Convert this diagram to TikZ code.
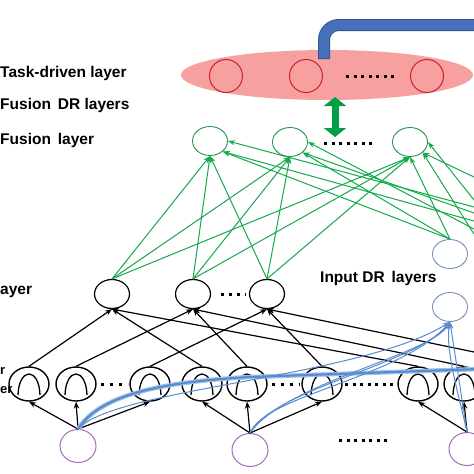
\documentclass[tikz,border=0pt]{standalone}
\usepackage{fontspec}
\setmainfont{Liberation Sans}
\usetikzlibrary{arrows.meta,shapes.geometric,calc}
\definecolor{gline}{RGB}{20,170,75}
\definecolor{gcirc}{RGB}{40,150,80}
\definecolor{rcirc}{RGB}{205,30,45}
\definecolor{rfill}{RGB}{246,150,150}
\definecolor{pipe}{RGB}{70,112,185}
\definecolor{pipeedge}{RGB}{50,85,150}
\definecolor{purp}{RGB}{160,110,190}
\definecolor{bcirc}{RGB}{120,145,185}
\definecolor{bline}{RGB}{90,140,205}
\definecolor{bhalo}{RGB}{160,195,235}
\definecolor{garr}{RGB}{0,160,70}
\begin{document}
\begin{tikzpicture}[x=1pt,y=-1pt,
  lbl/.style={font=\fontsize{15.5}{18}\selectfont\bfseries, anchor=west, inner sep=0pt},
  redc/.style={circle, draw=rcirc, line width=1pt, minimum size=33pt, inner sep=0pt},
  grc/.style={ellipse, draw=gcirc, line width=0.9pt, minimum width=35pt, minimum height=29pt, inner sep=0pt},
  blc/.style={ellipse, draw=black, line width=1.2pt, minimum width=35pt, minimum height=29pt, inner sep=0pt},
  bluec/.style={ellipse, draw=bcirc, line width=0.9pt, minimum width=35pt, minimum height=29pt, inner sep=0pt},
  rbf/.style={ellipse, draw=black, line width=1.4pt, minimum width=40pt, minimum height=34pt, inner sep=0pt},
  purc/.style={ellipse, draw=purp, line width=1pt, minimum width=36pt, minimum height=33pt, inner sep=0pt},
  garrow/.style={draw=gline, line width=1pt, -{Stealth[length=7pt,width=5pt]}},
  barrow/.style={draw=black, line width=1.2pt, -{Stealth[length=7pt,width=5.5pt]}},
  blarrow/.style={draw=bline, line width=1pt, -{Stealth[length=7pt,width=5pt]}},
  dotrow/.style={line width=3pt, dash pattern=on 3pt off 4.5pt},
]
\useasboundingbox (0,0) rectangle (474,474);
\fill[white] (0,0) rectangle (474,474);
\clip (0,0) rectangle (474,474);

% labels
\node[lbl] (t1) at (0,73) {Task-driven layer};
\node[lbl] (t2) at (0,105) {Fusion \,DR layers};
\node[lbl] (t3) at (0,140) {Fusion \,layer};
\node[lbl] (t4) at (0,292) {ayer};
\node[lbl] (t5) at (320,278) {Input DR \,layers};
\node[lbl, font=\fontsize{13}{15}\selectfont\bfseries] (t6) at (0,371) {r};
\node[lbl, font=\fontsize{13}{15}\selectfont\bfseries] (t7) at (0,390) {er};

% red task-driven layer
\node[ellipse, fill=rfill, fill opacity=0.9, minimum width=292pt, minimum height=50pt, inner sep=0pt] (task) at (327,75) {};
\node[redc] (k1) at (226,76) {};
\node[redc] (k2) at (306,76) {};
\node[redc] (k3) at (427,76) {};
\draw[dotrow] (346,76) -- (398,76);

% blue pipe
\draw[pipeedge, line width=12pt, rounded corners=15pt] (324,59) -- (324,25) -- (490,25);
\draw[pipe, line width=10pt, rounded corners=15pt] (324,58) -- (324,25) -- (490,25);

% green double arrow
\draw[garr, line width=7pt, {Triangle[length=9pt,width=22pt]}-{Triangle[length=9pt,width=22pt]}] (335,97) -- (335,137);

% fusion layer
\node[grc] (f1) at (210,141) {};
\node[grc] (f2) at (290,142) {};
\node[grc] (f3) at (410,142) {};
\draw[dotrow] (324,143) -- (375,143);

% input DR nodes
\node[bluec] (b1) at (450,254) {};
\node[bluec] (b2) at (450,307) {};

% hidden layer
\node[blc] (h1) at (112,294) {};
\node[blc] (h2) at (193,294) {};
\node[blc] (h3) at (267,294) {};
\draw[line width=3pt, dash pattern=on 3pt off 5pt] (221,294) -- (246,294);

% RBF layer
\foreach \n/\x in {r1/29,r2/76,r3/150,r4/202,r5/247,r6/322,r7/418,r8/464}
  \node[rbf] (\n) at (\x,384) {};
\foreach \n in {r1,r2,r3,r4,r5,r6,r7,r8}
  \draw[line width=1.3pt] ($(\n)+(-11,11)$) .. controls +(1,-28) and +(-1,-28) .. ($(\n)+(11,11)$);
\draw[line width=3pt, dash pattern=on 3pt off 6pt] (101,384) -- (128,384);
\draw[line width=3pt, dash pattern=on 3pt off 6pt] (272,384) -- (300,384);
\draw[dotrow] (345,384) -- (398,384);

% input layer
\node[purc] (p1) at (78,446) {};
\node[purc] (p2) at (250,450) {};
\node[purc] (p3) at (467,449) {};
\draw[dotrow] (339,440) -- (390,440);

% right-edge coordinates
\coordinate (e1) at (474,177);
\coordinate (e2) at (474,207);
\coordinate (e3) at (474,213);
\coordinate (e4) at (474,221);
\coordinate (e5) at (474,229);
\coordinate (e6) at (474,234);
\coordinate (e7) at (474,352);
\coordinate (e8) at (474,200);

% green connections
\foreach \h in {h1,h2,h3}
  \foreach \f in {f1,f2,f3}
    \draw[garrow] (\h.north) -- (\f.south);
\draw[garrow] (b1.north) -- (f1.south east);
\draw[garrow] (b1.north) -- (f2.south east);
\draw[garrow] (b1.north) -- (f3.south);
\draw[garrow] (e2) -- (f1.east);
\draw[garrow] (e4) -- (f1.south east);
\draw[garrow] (e3) -- (f2.south east);
\draw[garrow] (e5) -- (f2.east);
\draw[garrow] (e1) -- (f3.south east);
\draw[garrow] (e6) -- (f3.south east);
\draw[garrow] (e8) -- (f3.east);

% black connections RBF -> hidden
\draw[barrow] (r1.north) -- (h1.south);
\draw[barrow] (r4.north) -- (h1.south);
\draw[barrow] (r7.north) -- (h1.south);
\draw[barrow] (r2.north) -- (h2.south);
\draw[barrow] (r5.north) -- (h2.south);
\draw[barrow] (r8.north) -- (h2.south);
\draw[barrow] (r3.north) -- (h3.south);
\draw[barrow] (r6.north) -- (h3.south);
\draw[barrow] (e7) -- (h3.south);

% input -> RBF
\draw[barrow] (p1.north) -- (r1.south);
\draw[barrow] (p1.north) -- (r2.south);
\draw[barrow] (p1.north) -- (r3.south);
\draw[barrow] (p2.north) -- (r4.south);
\draw[barrow] (p2.north) -- (r5.south);
\draw[barrow] (p2.north) -- (r6.south);
\draw[barrow] (p3.north) -- (r7.south);
\draw[barrow] (p3.north) -- (r8.south);

% blue input DR connections
\draw[bhalo, line width=4.5pt] (p1.north) .. controls (100,395) and (160,382) .. (250,377) -- (480,369);
\draw[bline, line width=2.2pt] (p1.north) .. controls (100,395) and (160,382) .. (250,377) -- (480,369);
\draw[blarrow] (p1.north) .. controls (115,388) and (360,378) .. (b2.south);
\draw[blarrow] (p2.north) .. controls (265,395) and (400,378) .. (b2.south);
\draw[blarrow] (p2.north) .. controls (275,388) and (415,365) .. (b2.south);
\draw[blarrow] (p2.north) .. controls (285,383) and (430,355) .. (b2.south);
\draw[blarrow] (p3.north) -- (b2.south);
\draw[blarrow] (p3.north) .. controls (460,400) and (445,350) .. (b2.south);
\end{tikzpicture}
\end{document}
